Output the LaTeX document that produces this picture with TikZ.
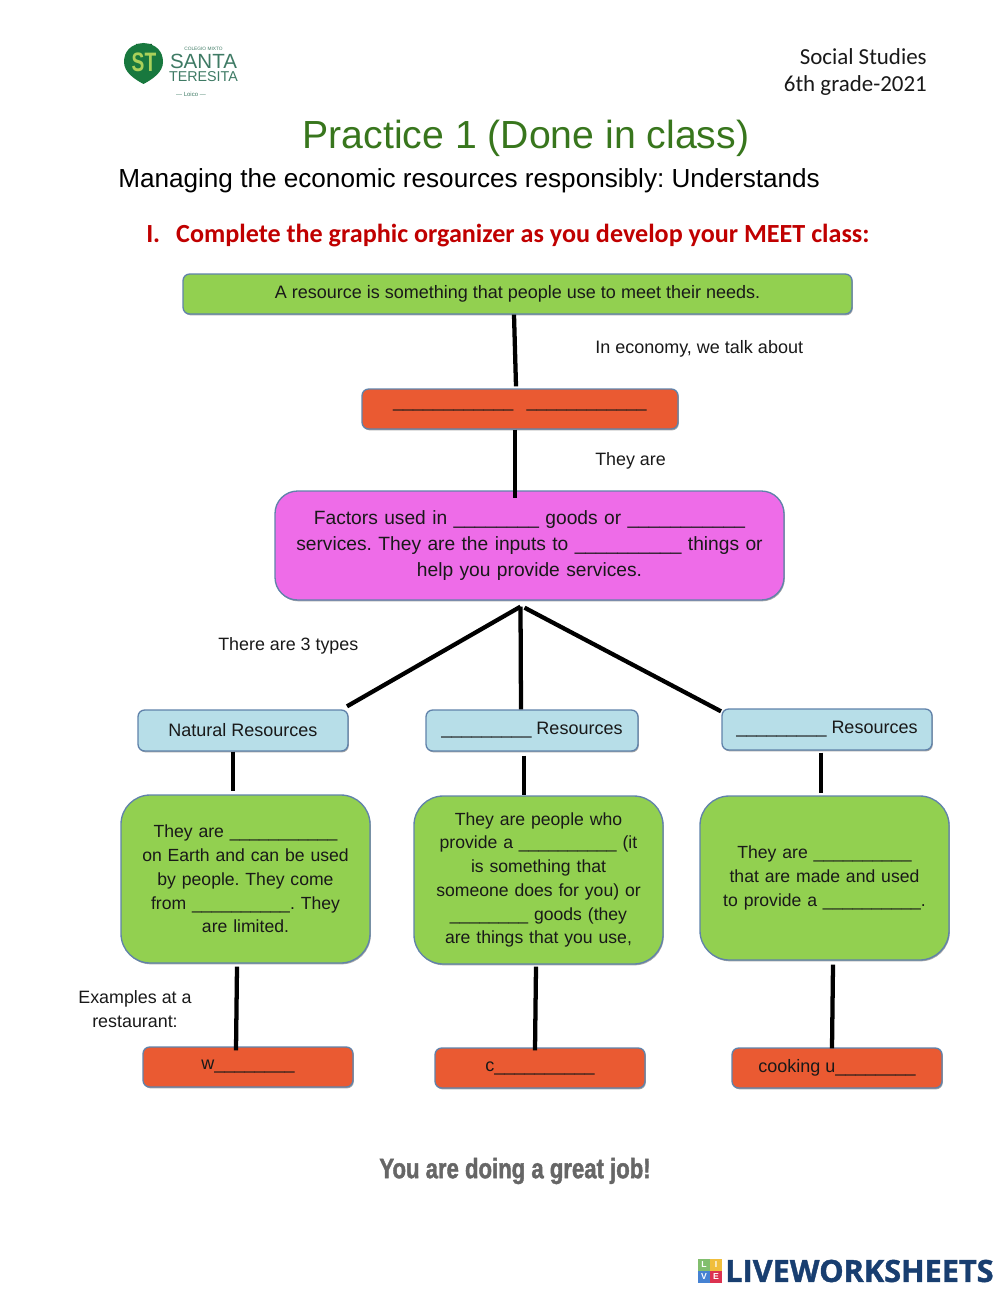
\documentclass[tikz,border=0pt]{standalone}
\usepackage{fontspec}
\setmainfont{Liberation Sans}
\newfontfamily\calibrifont{Carlito}
\newfontfamily\lwsfont[BoldFeatures={FakeBold=1.2}]{Open Sans}
\newfontfamily\narrowfont[FakeStretch=0.79,BoldFeatures={FakeBold=1.5}]{Liberation Sans}
\usetikzlibrary{calc, shadows}
\definecolor{verdecito}{RGB}{146,208,80}
\definecolor{naranjita}{RGB}{234,90,50}
\definecolor{rosita}{RGB}{238,108,232}
\definecolor{celestito}{RGB}{183,222,232}
\definecolor{bordecito}{RGB}{96,130,170}
\definecolor{titulito}{RGB}{56,118,29}
\definecolor{rojito}{RGB}{192,0,0}
\definecolor{pinito}{RGB}{24,120,62}
\definecolor{grisito}{RGB}{62,122,100}
\definecolor{limita}{RGB}{170,208,90}
\definecolor{azulcito}{RGB}{24,62,112}
\definecolor{cuadrol}{RGB}{130,190,110}
\definecolor{cuadroi}{RGB}{240,190,60}
\definecolor{cuadrov}{RGB}{70,130,210}
\definecolor{cuadroe}{RGB}{220,50,80}
\newcommand{\fsize}[1]{\fontsize{#1}{#1}\selectfont}
\tikzset{
	card/.style n args={4}{draw=bordecito, line width=1pt, fill=#1, rounded corners=#2, inner sep=0pt, align=center, text=black!90, minimum width=#3*0.75pt, minimum height=#4*0.75pt, drop shadow={shadow xshift=0.6pt, shadow yshift=-1pt, opacity=.35, fill=black}},
	link/.style={line width=3.2pt, black},
	plain/.style={inner sep=0pt, text=black!90, align=center},
	square/.style={inner sep=0pt, minimum size=8.6pt, text=white, font=\bfseries\fsize{6.5}},
	logotext/.style={inner sep=0pt, text=grisito}
}

\begin{document}
\frenchspacing
\begin{tikzpicture}[x=0.75pt,y=-0.75pt]
	\useasboundingbox (0,0) rectangle (1000,1291);

	%logo
	\fill [pinito!70!black] (136,44) arc [start angle=180, end angle=360, x radius=8, y radius=-6] -- cycle;
	\fill [pinito] (143.5,43) .. controls (130,44) and (124,52) .. (124,62) .. controls (124,72) and (134,79) .. (143.5,84) .. controls (153,79) and (163,72) .. (163,62) .. controls (163,52) and (157,44) .. (143.5,43) -- cycle;
	\node [inner sep=0pt, text=limita, xscale=.72, transform shape, font=\bfseries\fsize{20}] (logoletters) at (144,62) {ST};
	\node [logotext, font=\fsize{3.6}] (logotop) at (203.5,49) {COLEGIO MIXTO};
	\node [logotext, font=\fsize{15.4}] (logosanta) at (203.5,61) {SANTA};
	\node [logotext, font=\fsize{10.7}] (logoteresita) at (203.5,76.5) {TERESITA};
	\node [logotext, font=\fsize{4.5}] (logoplace) at (191,94) {--- Loico ---};

	%headings
	\node [plain, anchor=east, font=\calibrifont\fsize{17.2}] (subject) at (927,57) {Social Studies};
	\node [plain, anchor=east, font=\calibrifont\fsize{17.2}] (grade) at (927,86) {6th grade-2021};
	\node [inner sep=0pt, text=titulito, font=\fsize{29.4}] (title) at (526,138) {Practice 1 (Done in class)};
	\node [plain, anchor=west, text=black, font=\fsize{19.6}] (subtitle) at (118,181) {Managing the economic resources responsibly: Understands};
	\node [inner sep=0pt, anchor=west, text=rojito, font=\calibrifont\bfseries\fsize{19.6}] (instruction) at (146,236) {I.\hspace{12pt}Complete the graphic organizer as you develop your MEET class:};

	%top of the organizer
	\node [card={verdecito}{5pt}{669}{40}, font=\fsize{13.5}] (resource) at (517.5,294) {A resource is something that people use to meet their needs.};
	\node [card={naranjita}{5pt}{316}{40}, font=\fsize{13.5}] (economy) at (520,409) {\_\_\_\_\_\_\_\_\_\_\_\_\hspace{10pt}\_\_\_\_\_\_\_\_\_\_\_\_};
	\node [card={rosita}{17pt}{509}{109}, font=\fontsize{14.4}{19.6}\selectfont, text width=375pt] (factors) at (529.5,545.5) {Factors used in \_\_\_\_\_\_\_\_ goods or \_\_\_\_\_\_\_\_\_\_\_\\ services. They are the inputs to \_\_\_\_\_\_\_\_\_\_ things or\\ help you provide services.};
	\node [plain, anchor=west, font=\fsize{13.5}] (talk) at (595,349) {In economy, we talk about};
	\node [plain, anchor=west, font=\fsize{13.4}] (theyare) at (595,461) {They are};
	\node [plain, anchor=west, font=\fsize{13.4}] (types) at (218,646) {There are 3 types};

	%the three types
	\node [card={celestito}{5pt}{210}{41}, font=\fsize{13.5}] (natural) at (243,730.5) {Natural Resources};
	\node [card={celestito}{5pt}{212}{41}, font=\fsize{13.5}] (human) at (532,730.5) {\_\_\_\_\_\_\_\_\_ Resources};
	\node [card={celestito}{5pt}{210}{41}, font=\fsize{13.5}] (capital) at (827,729.5) {\_\_\_\_\_\_\_\_\_ Resources};

	\node [card={verdecito}{22pt}{249}{168}, font=\fontsize{13.2}{17.8}\selectfont, text width=175pt] (naturaltext) at (245.5,879) {They are \_\_\_\_\_\_\_\_\_\_\_\\ on Earth and can be used\\ by people. They come\\ from \_\_\_\_\_\_\_\_\_\_. They\\ are limited.};
	\node [card={verdecito}{22pt}{249}{168}, font=\fontsize{13.2}{17.8}\selectfont, text width=175pt] (humantext) at (538.5,880) {They are people who\\ provide a \_\_\_\_\_\_\_\_\_\_ (it\\ is something that\\ someone does for you) or\\ \_\_\_\_\_\_\_\_ goods (they\\ are things that you use,};
	\node [card={verdecito}{22pt}{249}{164}, font=\fontsize{13.2}{17.8}\selectfont, text width=175pt] (capitaltext) at (824.5,878) {They are \_\_\_\_\_\_\_\_\_\_\\ that are made and used\\ to provide a \_\_\_\_\_\_\_\_\_\_.};

	\node [plain, font=\fontsize{13.4}{18}\selectfont] (examples) at (135,1009) {Examples at a\\ restaurant:};
	\node [card={naranjita}{5pt}{210}{40}, font=\fsize{13.5}] (waiter) at (248,1067) {w\_\_\_\_\_\_\_\_};
	\node [card={naranjita}{5pt}{210}{40}, font=\fsize{13.5}] (cook) at (540,1068) {c\_\_\_\_\_\_\_\_\_\_};
	\node [card={naranjita}{5pt}{210}{40}, font=\fsize{13.5}] (utensils) at (837,1068) {cooking u\_\_\_\_\_\_\_\_};

	%connectors
	\draw [link] ($(resource.south)+(-3.5,0)$) -- ($(economy.north)+(-4,-2)$);
	\draw [link] ($(economy.south)+(-5,0)$) -- ($(factors.north)+(-14.5,8)$);
	\draw [link] ($(factors.south)+(-9,6)$) -- ($(natural.north)+(104,-3)$);
	\draw [link] ($(factors.south)+(-9,6)$) -- ($(human.north)+(-11,0)$);
	\draw [link] ($(factors.south)+(-5,7)$) -- ($(capital.north)+(-106,3)$);
	\draw [link] ($(natural.south)+(-10,0)$) -- ($(naturaltext.north)+(-12.5,-3)$);
	\draw [link] ($(human.south)+(-8,4)$) -- ($(humantext.north)+(-14.5,0)$);
	\draw [link] ($(capital.south)+(-6,2)$) -- ($(capitaltext.north)+(-3.5,-2)$);
	\draw [link] ($(naturaltext.south)+(-8.5,3)$) -- ($(waiter.north)+(-12,4)$);
	\draw [link] ($(humantext.south)+(-2.5,2)$) -- ($(cook.north)+(-5,3)$);
	\draw [link] ($(capitaltext.south)+(8.5,4)$) -- ($(utensils.north)+(-5,1)$);

	%footer
	\node [inner sep=0pt, text=black!60, font=\narrowfont\bfseries\fsize{21}] (cheer) at (515,1171) {You are doing a great job!};
	\node [square, fill=cuadrol] (boxl) at (704,1265) {L};
	\node [square, fill=cuadroi] (boxi) at (716,1265) {I};
	\node [square, fill=cuadrov] (boxv) at (704,1277) {V};
	\node [square, fill=cuadroe] (boxe) at (716,1277) {E};
	\node [inner sep=0pt, anchor=west, text=azulcito, font=\lwsfont\bfseries\fsize{23}] (liveworksheets) at (725,1271) {LIVEWORKSHEETS};
\end{tikzpicture}
\end{document}
